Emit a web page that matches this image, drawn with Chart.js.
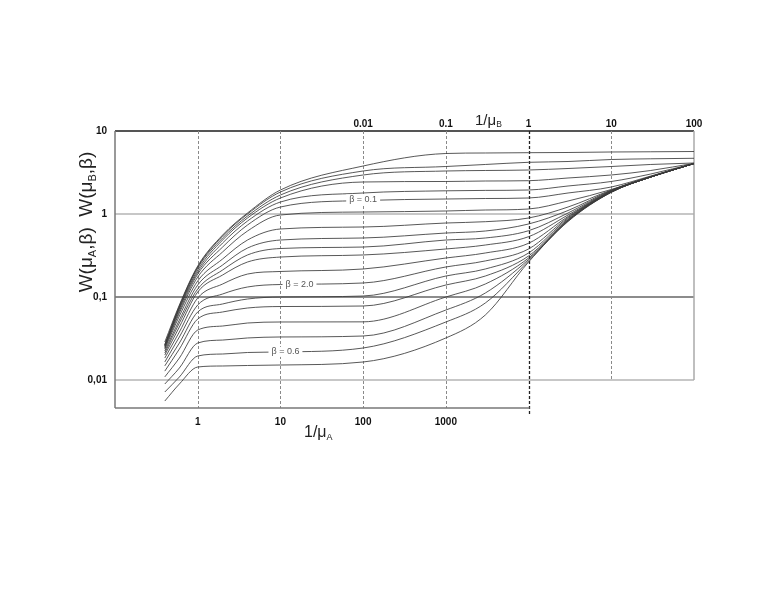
<!DOCTYPE html>
<html>
<head>
<meta charset="utf-8">
<script src="https://cdn.jsdelivr.net/npm/chart.js@4.4.1/dist/chart.umd.min.js"></script>
<style>
  html, body { margin: 0; padding: 0; background: #fff; }
  canvas { display: block; }
</style>
</head>
<body>
<canvas id="typeCurves" width="768" height="594"></canvas>
<script>
const invUA = [0.4, 0.6, 1, 2, 4, 10, 100, 1000, 3000, 10000, 30000, 100000, 300000, 1000000];

// beta of each curve, top to bottom
const betas = [0.001, 0.004, 0.01, 0.03, 0.06, 0.1, 0.2, 0.4, 0.6, 0.8, 1.0, 1.5, 2.0, 2.5, 3.0, 4.0, 5.0, 6.0, 7.0];

// W(uA,beta) / W(uB,beta) at invUA
const w01 = [0.0287, 0.0801, 0.236, 0.558, 1.028, 1.946, 3.787, 5.357, 5.432, 5.478, 5.508, 5.585, 5.62, 5.662];
const w02 = [0.0268, 0.0779, 0.230, 0.543, 1.00, 1.841, 3.297, 3.735, 3.95, 4.197, 4.29, 4.535, 4.625, 4.69];
const w03 = [0.0264, 0.0758, 0.224, 0.514, 0.946, 1.694, 2.951, 3.297, 3.343, 3.389, 3.533, 3.735, 3.95, 4.116];
const w04 = [0.0260, 0.0737, 0.2115, 0.486, 0.895, 1.559, 2.430, 2.464, 2.498, 2.519, 2.715, 2.951, 3.343, 4.081];
const w05 = [0.0257, 0.0717, 0.200, 0.447, 0.823, 1.395, 1.791, 1.903, 1.925, 1.946, 2.175, 2.464, 3.033, 4.059];
const w06 = [0.0250, 0.0678, 0.189, 0.400, 0.737, 1.214, 1.454, 1.516, 1.537, 1.559, 1.791, 2.115, 2.869, 4.059];
const w07 = [0.0243, 0.0642, 0.174, 0.349, 0.624, 0.973, 1.057, 1.087, 1.117, 1.149, 1.434, 1.973, 2.830, 4.059];
const w08 = [0.0236, 0.0590, 0.156, 0.287, 0.486, 0.660, 0.697, 0.779, 0.808, 0.895, 1.214, 1.946, 2.822, 4.059];
const w09 = [0.0224, 0.0528, 0.1395, 0.243, 0.389, 0.486, 0.514, 0.590, 0.624, 0.758, 1.102, 1.930, 2.814, 4.059];
const w10 = [0.0212, 0.0486, 0.1248, 0.2115, 0.321, 0.384, 0.400, 0.486, 0.514, 0.629, 1.028, 1.914, 2.807, 4.059];
const w11 = [0.0200, 0.0435, 0.1149, 0.1841, 0.264, 0.303, 0.321, 0.379, 0.423, 0.533, 0.973, 1.898, 2.799, 4.059];
const w12 = [0.0184, 0.0379, 0.0973, 0.1434, 0.189, 0.203, 0.2175, 0.295, 0.339, 0.444, 0.933, 1.883, 2.791, 4.059];
const w13 = [0.0165, 0.0330, 0.0801, 0.1087, 0.132, 0.1414, 0.1475, 0.230, 0.272, 0.379, 0.907, 1.866, 2.791, 4.059];
const w14 = [0.0148, 0.0279, 0.0660, 0.0824, 0.0946, 0.100, 0.1028, 0.179, 0.2175, 0.339, 0.883, 1.856, 2.791, 4.059];
const w15 = [0.0128, 0.0236, 0.0543, 0.0660, 0.0737, 0.0768, 0.0779, 0.1395, 0.179, 0.312, 0.859, 1.846, 2.791, 4.059];
const w16 = [0.0109, 0.0184, 0.0400, 0.0447, 0.0486, 0.0500, 0.0502, 0.100, 0.1434, 0.295, 0.847, 1.841, 2.791, 4.059];
const w17 = [0.00895, 0.01395, 0.0279, 0.0303, 0.0321, 0.0330, 0.0339, 0.0697, 0.1117, 0.283, 0.835, 1.836, 2.791, 4.059];
const w18 = [0.00717, 0.01087, 0.01946, 0.02057, 0.02145, 0.02175, 0.0243, 0.0500, 0.0847, 0.272, 0.823, 1.831, 2.791, 4.059];
const w19 = [0.00558, 0.00895, 0.01434, 0.01475, 0.01496, 0.01516, 0.01648, 0.0321, 0.0607, 0.264, 0.812, 1.826, 2.791, 4.059];

const curves = [w01, w02, w03, w04, w05, w06, w07, w08, w09, w10, w11, w12, w13, w14, w15, w16, w17, w18, w19];

// ticks
const yTickValues = [0.01, 0.1, 1, 10];
const yTickLabels = ['0,01', '0,1', '1', '10'];
const xTickValues = [1, 10, 100, 1000];
const xTickLabels = ['1', '10', '100', '1000'];
const x2TickValues = [0.01, 0.1, 1, 10, 100];
const x2TickLabels = ['0.01', '0.1', '1', '10', '100'];

// vertical dashed lines (in 1/uA)
const xDashValues = [1, 10, 100, 1000, 100000];

// curve labels
const labelTexts = ['\u03b2 = 0.1', '\u03b2 = 2.0', '\u03b2 = 0.6'];
const labelAtInvUA = [100, 17, 11.5];
const labelAtW = [1.5, 0.143, 0.0218];

const FONT = '"Liberation Sans", Arial, sans-serif';

function strokeLine(ctx, x1, y1, x2, y2) {
    ctx.beginPath();
    ctx.moveTo(x1, y1);
    ctx.lineTo(x2, y2);
    ctx.stroke();
}

// text like 1/μA with a small lowered letter
function drawSubText(ctx, parts, x, y, align) {
    let total = 0;
    parts.forEach(p => {
        ctx.font = p.size + 'px ' + FONT;
        p.w = ctx.measureText(p.t).width;
        total += p.w;
    });
    let cx = align === 'center' ? x - total / 2 : x;
    ctx.textAlign = 'left';
    ctx.textBaseline = 'alphabetic';
    parts.forEach(p => {
        ctx.font = p.size + 'px ' + FONT;
        ctx.fillText(p.t, cx, y + (p.dy || 0));
        cx += p.w;
    });
}

const framePlugin = {
    id: 'frame',
    beforeDatasetsDraw(chart) {
        const {ctx, chartArea: a, scales: {x, y}} = chart;
        ctx.save();

        // horizontal grid lines
        yTickValues.forEach(v => {
            const py = y.getPixelForValue(v);
            if (v === 10) {
                ctx.strokeStyle = '#555';
                ctx.lineWidth = 2;
            } else if (v === 0.1) {
                ctx.strokeStyle = '#8c8c8c';
                ctx.lineWidth = 2;
            } else {
                ctx.strokeStyle = '#b4b4b4';
                ctx.lineWidth = 1.5;
            }
            strokeLine(ctx, a.left, py, a.right, py);
        });

        const yLow = y.getPixelForValue(0.01);

        // dashed verticals
        ctx.setLineDash([3, 2]);
        ctx.strokeStyle = '#8a8a8a';
        ctx.lineWidth = 1;
        xDashValues.forEach(v => {
            const px = Math.round(x.getPixelForValue(v)) + 0.5;
            strokeLine(ctx, px, a.top, px, v > 10000 ? yLow : a.bottom);
        });
        ctx.strokeStyle = '#222';
        ctx.lineWidth = 1.3;
        const p4 = Math.round(x.getPixelForValue(10000)) + 0.5;
        strokeLine(ctx, p4, a.top, p4, a.bottom + 7);
        ctx.setLineDash([]);

        // frame
        ctx.lineWidth = 1.5;
        ctx.strokeStyle = '#777';
        strokeLine(ctx, a.left, a.top, a.left, a.bottom);
        strokeLine(ctx, a.left, a.bottom, p4, a.bottom);
        ctx.strokeStyle = '#aaa';
        strokeLine(ctx, a.right, a.top, a.right, yLow);

        ctx.restore();
    },
    afterDatasetsDraw(chart) {
        const {ctx, scales: {x, y}} = chart;
        ctx.save();
        ctx.font = '9px ' + FONT;
        ctx.textAlign = 'center';
        ctx.textBaseline = 'middle';
        labelTexts.forEach((t, i) => {
            const px = x.getPixelForValue(labelAtInvUA[i]);
            const py = y.getPixelForValue(labelAtW[i]);
            const tw = ctx.measureText(t).width;
            ctx.fillStyle = '#fff';
            ctx.fillRect(px - tw / 2 - 3, py - 5, tw + 6, 10);
            ctx.fillStyle = '#555';
            ctx.fillText(t, px, py);
        });
        ctx.restore();
    },
    afterDraw(chart) {
        const {ctx} = chart;
        ctx.save();
        ctx.fillStyle = '#222';
        // bottom axis title
        drawSubText(ctx, [{t: '1/\u03bc', size: 16}, {t: 'A', size: 9, dy: 3}], 304, 437, 'left');
        // top axis title
        drawSubText(ctx, [{t: '1/\u03bc', size: 15}, {t: 'B', size: 8.5, dy: 2}], 475, 125, 'left');
        // y title, rotated
        ctx.translate(92, 222);
        ctx.rotate(-Math.PI / 2);
        drawSubText(ctx, [
            {t: 'W(\u03bc', size: 19}, {t: 'A', size: 11, dy: 4}, {t: ',\u03b2)  W(\u03bc', size: 19},
            {t: 'B', size: 11, dy: 4}, {t: ',\u03b2)', size: 19}
        ], 0, 0, 'center');
        ctx.restore();
    }
};

const datasets = curves.map((w, k) => ({
    label: '\u03b2 = ' + betas[k],
    data: invUA.map((v, i) => ({x: v, y: w[i]})),
    borderColor: '#3a3a3a',
    borderWidth: 0.85,
    pointRadius: 0,
    fill: false,
    cubicInterpolationMode: 'monotone'
}));

const tickFont = {family: FONT, size: 10, weight: 'bold'};

new Chart(document.getElementById('typeCurves').getContext('2d'), {
    type: 'line',
    data: {datasets: datasets},
    options: {
        responsive: false,
        animation: false,
        devicePixelRatio: 1,
        layout: {padding: {left: 0, right: 74, top: 0, bottom: 0}},
        plugins: {legend: {display: false}, tooltip: {enabled: false}},
        scales: {
            x: {
                type: 'logarithmic',
                position: 'bottom',
                min: 0.1,
                max: 1000000,
                grid: {display: false, drawTicks: false},
                border: {display: false},
                afterBuildTicks: s => { s.ticks = xTickValues.map(v => ({value: v})); },
                afterFit: s => { s.height = 186; },
                ticks: {
                    autoSkip: false, maxRotation: 0, padding: 8,
                    font: tickFont, color: '#111',
                    callback: v => xTickLabels[xTickValues.indexOf(v)]
                }
            },
            x2: {
                type: 'logarithmic',
                position: 'top',
                min: 0.00001,
                max: 100,
                grid: {display: false, drawTicks: false},
                border: {display: false},
                afterBuildTicks: s => { s.ticks = x2TickValues.map(v => ({value: v})); },
                afterFit: s => { s.height = 131; },
                ticks: {
                    autoSkip: false, maxRotation: 0, padding: 1,
                    font: tickFont, color: '#111',
                    callback: v => x2TickLabels[x2TickValues.indexOf(v)]
                }
            },
            y: {
                type: 'logarithmic',
                min: 0.0046,
                max: 10,
                grid: {display: false, drawTicks: false},
                border: {display: false},
                afterBuildTicks: s => { s.ticks = yTickValues.map(v => ({value: v})); },
                afterFit: s => { s.width = 115; },
                ticks: {
                    autoSkip: false, padding: 8,
                    font: tickFont, color: '#111',
                    callback: v => yTickLabels[yTickValues.indexOf(v)]
                }
            }
        }
    },
    plugins: [framePlugin]
});
</script>
</body>
</html>
